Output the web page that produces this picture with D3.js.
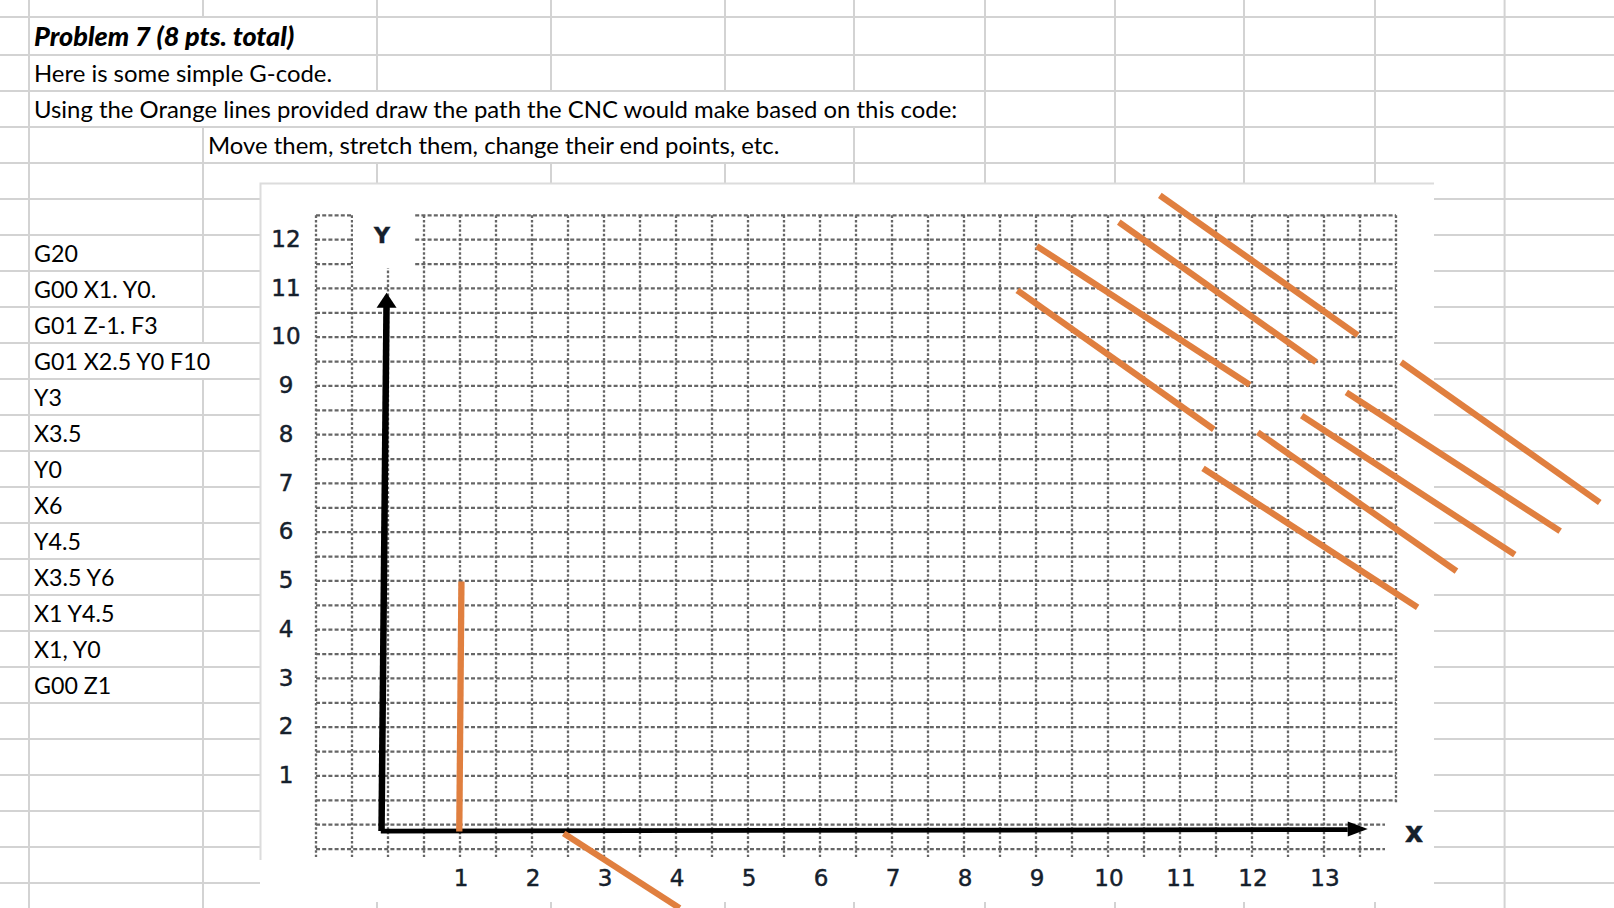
<!DOCTYPE html>
<html><head><meta charset="utf-8">
<script src="https://cdn.jsdelivr.net/npm/d3@7/dist/d3.min.js"></script>
<style>html,body{margin:0;padding:0;background:#fff;overflow:hidden}svg{display:block}</style>
</head><body><svg id="c" width="1614" height="908"></svg>
<script>
const titleText = "Problem 7 (8 pts. total)";
const introLines = ["Here is some simple G-code.",
  "Using the Orange lines provided draw the path the CNC would make based on this code:"];
const moveLine = "Move them, stretch them, change their end points, etc.";
const gcodeLines = ["G20","G00 X1. Y0.","G01 Z-1. F3","G01 X2.5 Y0 F10","Y3","X3.5","Y0","X6","Y4.5","X3.5 Y6","X1 Y4.5","X1, Y0","G00 Z1"];
const xTicks = [1,2,3,4,5,6,7,8,9,10,11,12,13];
const yTicks = [1,2,3,4,5,6,7,8,9,10,11,12];
const gridXValues = d3.range(-1, 14.01, 0.5);
const gridYValues = d3.range(-0.5, 12.51, 0.5);
// Orange segments in chart units
const segStartX = [0.99, 2.44, 10.72, 10.15, 9.01, 8.74, 14.07, 13.31, 12.69, 12.08, 11.32];
const segStartY = [-0.14, -0.18, 12.91, 12.36, 11.87, 10.96, 9.49, 8.87, 8.39, 8.05, 7.31];
const segEndX   = [1.02, 4.05, 13.47, 12.89, 11.97, 11.47, 16.83, 16.28, 15.65, 14.84, 14.30];
const segEndY   = [4.99, -1.71, 10.04, 9.49, 9.02, 8.11, 6.61, 6.02, 5.54, 5.20, 4.46];
const yAxisLine = [[-0.09,-0.13],[-0.02,10.75]];
const xAxisLine = [[-0.1,-0.13],[13.33,-0.1]];

const sheetVerticals = [
  [29,0,908],[203,0,17],[203,127,344],[203,378,908],[377,0,91],[377,163,183],[551,0,91],[551,163,183],
  [725,0,91],[725,163,183],[854,0,91],[854,127,183],[985,0,183],[1115,0,183],[1244,0,183],
  [1375,0,183],[1504.6,0,908],
  [377,902,908],[551,902,908],[725,902,908],[854,902,908],[985,902,908],[1115,902,908],[1244,902,908],[1375,902,908]];
const rowsAbove = [17,55,91,127,163];
const rowsBeside = d3.range(199,908,36);

const svg = d3.select("#c");
const defs = svg.append("defs");
defs.append("filter").attr("id","soft").append("feGaussianBlur").attr("stdDeviation",0.75);
defs.append("filter").attr("id","softer").append("feGaussianBlur").attr("stdDeviation",0.35);
defs.append("clipPath").attr("id","lowerGrid").append("path")
  .attr("d","M314,205H353V268H413V205H1398V804H1385V860H314Z");

const x = d3.scaleLinear().domain([0,13]).range([388,1324]);
const y = d3.scaleLinear().domain([0,12]).range([824.7,239.7]);

const sheet = svg.append("g").attr("stroke","#d3d3d3").attr("stroke-width",2);
sheet.selectAll("line.a").data(rowsAbove).join("line").attr("class","a")
  .attr("x1",0).attr("x2",1614).attr("y1",d=>d).attr("y2",d=>d);
sheet.selectAll("line.l").data(rowsBeside).join("line").attr("class","l")
  .attr("x1",0).attr("x2",260).attr("y1",d=>d).attr("y2",d=>d);
sheet.selectAll("line.rr").data(rowsBeside).join("line").attr("class","rr")
  .attr("x1",1434).attr("x2",1614).attr("y1",d=>d).attr("y2",d=>d);
sheet.selectAll("line.v").data(sheetVerticals).join("line").attr("class","v")
  .attr("x1",d=>d[0]).attr("x2",d=>d[0]).attr("y1",d=>d[1]).attr("y2",d=>d[2]);
svg.append("path").attr("d","M260.5,860V183.5H1434").attr("fill","none").attr("stroke","#dcdcdc").attr("stroke-width",2);

const sans = "Lato, Carlito, 'Open Sans', sans-serif";
svg.append("text").attr("x",34).attr("y",46).text(titleText)
  .attr("font-family",sans).attr("font-size",27).attr("font-weight",900).attr("font-style","italic").attr("fill","#000");
svg.selectAll("text.i").data(introLines).join("text").attr("class","i")
  .attr("x",34).attr("y",(d,i)=>82+36*i).text(d=>d)
  .attr("font-family",sans).attr("font-size",23.9).attr("fill","#000");
svg.append("text").attr("x",208).attr("y",154).text(moveLine)
  .attr("font-family",sans).attr("font-size",23.9).attr("fill","#000");
svg.selectAll("text.g").data(gcodeLines).join("text").attr("class","g")
  .attr("x",34).attr("y",(d,i)=>262+36*i).text(d=>d)
  .attr("font-family",sans).attr("font-size",23.2).attr("fill","#000");

const grid = svg.append("g").attr("clip-path","url(#lowerGrid)").append("g")
  .attr("filter","url(#soft)").attr("stroke","#666").attr("stroke-width",2.3).attr("fill","none");
grid.selectAll("line.h").data(gridYValues).join("line").attr("class","h")
  .attr("x1",x(-1)).attr("x2",x(14)).attr("y1",d=>y(d)).attr("y2",d=>y(d))
  .attr("stroke-dasharray","4 2.2");
grid.selectAll("line.w").data(gridXValues).join("line").attr("class","w")
  .attr("x1",d=>x(d)).attr("x2",d=>x(d)).attr("y1",y(12.5)).attr("y2",y(-0.5)+8)
  .attr("stroke-dasharray","2.6 2");

const line = d3.line().x(d=>x(d[0])).y(d=>y(d[1]));
const axes = svg.append("g").attr("filter","url(#softer)");
axes.append("path").attr("d",line(yAxisLine)).attr("fill","none").attr("stroke","#000").attr("stroke-width",6.5);
axes.append("path").attr("d",line(xAxisLine)).attr("fill","none").attr("stroke","#000").attr("stroke-width",4.8);
const yTip=[x(yAxisLine[1][0]),y(yAxisLine[1][1])];
axes.append("path").attr("d",`M${yTip[0]},${yTip[1]-8}l10,15h-20Z`).attr("fill","#000");
const xTip=[x(xAxisLine[1][0]),y(xAxisLine[1][1])];
axes.append("path").attr("d",`M${xTip[0]+20},${xTip[1]-0.5}l-20,-7.5v15Z`).attr("fill","#000");

const lab = svg.append("g").attr("font-family","'DejaVu Sans', Verdana, sans-serif").attr("fill","#15202c")
  .attr("text-anchor","middle").attr("stroke","#15202c").attr("stroke-width",0.45);
lab.selectAll("text.xt").data(xTicks).join("text").attr("class","xt")
  .attr("x",d=>x(d)+1).attr("y",878).attr("dy","0.36em").attr("font-size",23).text(d=>d);
lab.selectAll("text.yt").data(yTicks).join("text").attr("class","yt")
  .attr("x",286).attr("y",d=>y(d)-1).attr("dy","0.36em").attr("font-size",23).text(d=>d);
lab.append("text").attr("x",382).attr("y",235).attr("dy","0.36em").attr("font-size",22).attr("font-weight",700).text("Y");
lab.append("text").attr("x",1414).attr("y",832).attr("dy","0.36em").attr("font-size",28).attr("font-weight",700).text("x");

svg.append("g").selectAll("line").data(segStartX.map((d,i)=>i)).join("line")
  .attr("x1",i=>x(segStartX[i])).attr("y1",i=>y(segStartY[i]))
  .attr("x2",i=>x(segEndX[i])).attr("y2",i=>y(segEndY[i]))
  .attr("stroke","#e07f3f").attr("stroke-width",6.3);
</script></body></html>
